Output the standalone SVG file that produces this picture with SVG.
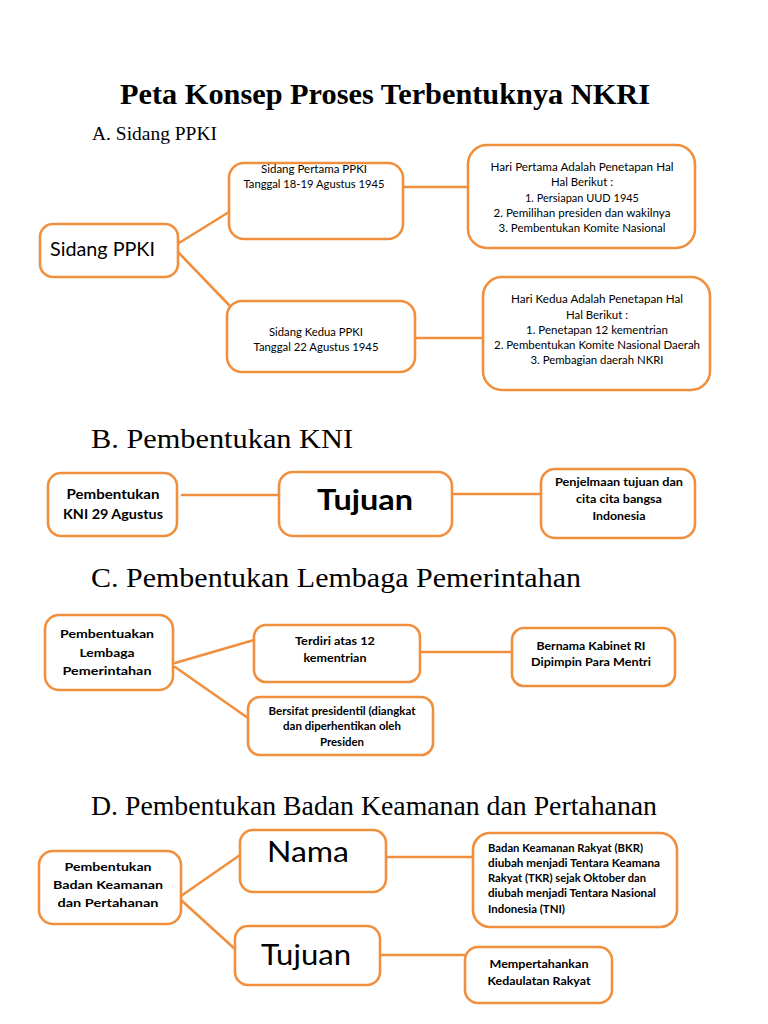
<svg xmlns="http://www.w3.org/2000/svg" width="768" height="1024" viewBox="0 0 768 1024">
<style>
.bg{fill:#ffffff}
.box{fill:#ffffff;stroke:#F0903E;stroke-width:2.6}
.con{stroke:#F0903E;stroke-width:2.6;fill:none;stroke-linecap:round}
.ttl{font-family:"Liberation Serif","Times New Roman",serif;fill:#000}
.n{font-family:Lato,"Liberation Sans",sans-serif;fill:#000;text-anchor:middle}
.l{text-anchor:start}
.s{font-size:10.8px}
.b{font-weight:bold}
</style>
<rect class="bg" x="0" y="0" width="768" height="1024"/>
<text class="ttl" x="120" y="104" font-size="28.5" font-weight="bold" textLength="530" lengthAdjust="spacingAndGlyphs">Peta Konsep Proses Terbentuknya NKRI</text>
<text class="ttl" x="92" y="140" font-size="18.5" textLength="125" lengthAdjust="spacingAndGlyphs">A. Sidang PPKI</text>
<text class="ttl" x="91" y="448" font-size="27" textLength="262" lengthAdjust="spacingAndGlyphs">B. Pembentukan KNI</text>
<text class="ttl" x="91" y="587" font-size="27.5" textLength="490" lengthAdjust="spacingAndGlyphs">C. Pembentukan Lembaga Pemerintahan</text>
<text class="ttl" x="91" y="815" font-size="27" textLength="566" lengthAdjust="spacingAndGlyphs">D. Pembentukan Badan Keamanan dan Pertahanan</text>

<g id="connectors">
<line class="con" x1="179" y1="243" x2="229" y2="212"/>
<line class="con" x1="178" y1="252" x2="229" y2="305"/>
<line class="con" x1="403" y1="187" x2="468" y2="187"/>
<line class="con" x1="415" y1="338" x2="483" y2="338"/>
<line class="con" x1="182" y1="495" x2="279" y2="495"/>
<line class="con" x1="447" y1="494" x2="541" y2="494"/>
<line class="con" x1="175" y1="663" x2="254" y2="640"/>
<line class="con" x1="175" y1="667" x2="248" y2="718"/>
<line class="con" x1="420" y1="652" x2="512" y2="652"/>
<line class="con" x1="181" y1="896" x2="240" y2="855"/>
<line class="con" x1="181" y1="900" x2="236" y2="950"/>
<line class="con" x1="386" y1="857" x2="473" y2="857"/>
<line class="con" x1="380" y1="955" x2="465" y2="955"/>
</g>

<g id="sidang-ppki">
<rect class="box" x="40" y="224" width="138" height="53" rx="13"/>
<text class="n l" x="50" y="256" font-size="20" textLength="105" lengthAdjust="spacingAndGlyphs">Sidang PPKI</text>
</g>
<g id="sidang-pertama">
<rect class="box" x="229" y="163" width="174" height="76" rx="15"/>
<text class="n s" x="314" y="173" textLength="106" lengthAdjust="spacingAndGlyphs">Sidang Pertama PPKI</text>
<text class="n s" x="314" y="188" textLength="141" lengthAdjust="spacingAndGlyphs">Tanggal 18-19 Agustus 1945</text>
</g>
<g id="sidang-kedua">
<rect class="box" x="227" y="301" width="188" height="71" rx="15"/>
<text class="n s" x="316" y="336" textLength="94" lengthAdjust="spacingAndGlyphs">Sidang Kedua PPKI</text>
<text class="n s" x="316" y="351" textLength="125" lengthAdjust="spacingAndGlyphs">Tanggal 22 Agustus 1945</text>
</g>
<g id="hari-pertama">
<rect class="box" x="468" y="145" width="227" height="103" rx="19"/>
<text class="n s" x="582" y="171" textLength="183" lengthAdjust="spacingAndGlyphs">Hari Pertama Adalah Penetapan Hal</text>
<text class="n s" x="582" y="186" textLength="62" lengthAdjust="spacingAndGlyphs">Hal Berikut :</text>
<text class="n s" x="582" y="202" textLength="114" lengthAdjust="spacingAndGlyphs">1. Persiapan UUD 1945</text>
<text class="n s" x="582" y="217" textLength="177" lengthAdjust="spacingAndGlyphs">2. Pemilihan presiden dan wakilnya</text>
<text class="n s" x="582" y="232" textLength="167" lengthAdjust="spacingAndGlyphs">3. Pembentukan Komite Nasional</text>
</g>
<g id="hari-kedua">
<rect class="box" x="483" y="277" width="227" height="113" rx="19"/>
<text class="n s" x="597" y="303" textLength="172" lengthAdjust="spacingAndGlyphs">Hari Kedua Adalah Penetapan Hal</text>
<text class="n s" x="597" y="319" textLength="62" lengthAdjust="spacingAndGlyphs">Hal Berikut :</text>
<text class="n s" x="597" y="334" textLength="142" lengthAdjust="spacingAndGlyphs">1. Penetapan 12 kementrian</text>
<text class="n s" x="597" y="349" textLength="206" lengthAdjust="spacingAndGlyphs">2. Pembentukan Komite Nasional Daerah</text>
<text class="n s" x="597" y="364" textLength="133" lengthAdjust="spacingAndGlyphs">3. Pembagian daerah NKRI</text>
</g>

<g id="kni">
<rect class="box" x="48" y="473" width="129" height="63" rx="13"/>
<text class="n b" x="113" y="499" font-size="13" textLength="93" lengthAdjust="spacingAndGlyphs">Pembentukan</text>
<text class="n b" x="113" y="519" font-size="13" textLength="100" lengthAdjust="spacingAndGlyphs">KNI 29 Agustus</text>
</g>
<g id="tujuan-b">
<rect class="box" x="279" y="472" width="173" height="64" rx="14"/>
<text class="n b" x="365" y="510" font-size="28" textLength="96" lengthAdjust="spacingAndGlyphs">Tujuan</text>
</g>
<g id="penjelmaan">
<rect class="box" x="541" y="469" width="154" height="69" rx="14"/>
<text class="n b" x="619" y="486" font-size="11.5" textLength="128" lengthAdjust="spacingAndGlyphs">Penjelmaan tujuan dan</text>
<text class="n b" x="619" y="503" font-size="11.5" textLength="86" lengthAdjust="spacingAndGlyphs">cita cita bangsa</text>
<text class="n b" x="619" y="520" font-size="11.5" textLength="53" lengthAdjust="spacingAndGlyphs">Indonesia</text>
</g>

<g id="lembaga">
<rect class="box" x="45" y="615" width="128" height="75" rx="14"/>
<text class="n b" x="107" y="638" font-size="12" textLength="94" lengthAdjust="spacingAndGlyphs">Pembentuakan</text>
<text class="n b" x="107" y="657" font-size="12" textLength="55" lengthAdjust="spacingAndGlyphs">Lembaga</text>
<text class="n b" x="107" y="675" font-size="12" textLength="89" lengthAdjust="spacingAndGlyphs">Pemerintahan</text>
</g>
<g id="terdiri">
<rect class="box" x="254" y="625" width="166" height="57" rx="12"/>
<text class="n b" x="335" y="645" font-size="11.5" textLength="80" lengthAdjust="spacingAndGlyphs">Terdiri atas 12</text>
<text class="n b" x="335" y="662" font-size="11.5" textLength="63" lengthAdjust="spacingAndGlyphs">kementrian</text>
</g>
<g id="bernama">
<rect class="box" x="512" y="628" width="163" height="58" rx="12"/>
<text class="n b" x="591" y="650" font-size="11.5" textLength="109" lengthAdjust="spacingAndGlyphs">Bernama Kabinet RI</text>
<text class="n b" x="591" y="666" font-size="11.5" textLength="120" lengthAdjust="spacingAndGlyphs">Dipimpin Para Mentri</text>
</g>
<g id="bersifat">
<rect class="box" x="248" y="697" width="185" height="58" rx="12"/>
<text class="n b" x="342" y="715" font-size="10.5" textLength="147" lengthAdjust="spacingAndGlyphs">Bersifat presidentil (diangkat</text>
<text class="n b" x="342" y="730" font-size="10.5" textLength="118" lengthAdjust="spacingAndGlyphs">dan diperhentikan oleh</text>
<text class="n b" x="342" y="746" font-size="10.5" textLength="44" lengthAdjust="spacingAndGlyphs">Presiden</text>
</g>

<g id="badan">
<rect class="box" x="39" y="851" width="142" height="73" rx="14"/>
<text class="n b" x="108" y="871" font-size="12" textLength="87" lengthAdjust="spacingAndGlyphs">Pembentukan</text>
<text class="n b" x="108" y="889" font-size="12" textLength="110" lengthAdjust="spacingAndGlyphs">Badan Keamanan</text>
<text class="n b" x="108" y="907" font-size="12" textLength="101" lengthAdjust="spacingAndGlyphs">dan Pertahanan</text>
</g>
<g id="nama">
<rect class="box" x="240" y="830" width="146" height="62" rx="13"/>
<text class="n" x="308" y="862" font-size="29" textLength="82" lengthAdjust="spacingAndGlyphs">Nama</text>
</g>
<g id="tujuan-d">
<rect class="box" x="235" y="926" width="145" height="59" rx="13"/>
<text class="n" x="306" y="965" font-size="29" textLength="90" lengthAdjust="spacingAndGlyphs">Tujuan</text>
</g>
<g id="bkr">
<rect class="box" x="473" y="833" width="204" height="94" rx="17"/>
<text class="n b l" x="488" y="852" font-size="10.5" textLength="155" lengthAdjust="spacingAndGlyphs">Badan Keamanan Rakyat (BKR)</text>
<text class="n b l" x="488" y="867" font-size="10.5" textLength="172" lengthAdjust="spacingAndGlyphs">diubah menjadi Tentara Keamana</text>
<text class="n b l" x="488" y="882" font-size="10.5" textLength="158" lengthAdjust="spacingAndGlyphs">Rakyat (TKR) sejak Oktober dan</text>
<text class="n b l" x="488" y="897" font-size="10.5" textLength="168" lengthAdjust="spacingAndGlyphs">diubah menjadi Tentara Nasional</text>
<text class="n b l" x="488" y="913" font-size="10.5" textLength="77" lengthAdjust="spacingAndGlyphs">Indonesia (TNI)</text>
</g>
<g id="mempertahankan">
<rect class="box" x="465" y="947" width="147" height="56" rx="13"/>
<text class="n b" x="539" y="968" font-size="11.5" textLength="99" lengthAdjust="spacingAndGlyphs">Mempertahankan</text>
<text class="n b" x="539" y="985" font-size="11.5" textLength="103" lengthAdjust="spacingAndGlyphs">Kedaulatan Rakyat</text>
</g>
</svg>
